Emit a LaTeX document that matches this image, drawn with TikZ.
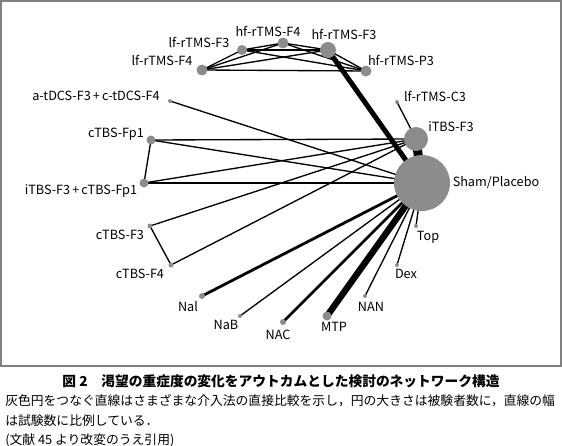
\documentclass[tikz,border=0pt]{standalone}
\usepackage{fontspec}
\setmainfont{Noto Sans CJK JP}
\usetikzlibrary{backgrounds}
\definecolor{nodegray}{RGB}{140,140,140}
\definecolor{framegray}{RGB}{128,128,128}
\tikzset{%
  trt/.style   = {circle, fill=nodegray, inner sep=0pt, minimum size=#1},%
  lbl/.style   = {font=\fontsize{9.5}{11}\selectfont, inner sep=0pt},%
  caption/.style = {font=\fontsize{9.6}{12}\selectfont, inner sep=0pt, anchor=west},%
  arm/.style   = {line width=1pt},%
  heavy/.style = {line width=#1}%
}
\begin{document}
\begin{tikzpicture}
[x=0.75pt,y=-0.75pt]
	\useasboundingbox (0,0) rectangle (562,446);
	\draw [framegray,line width=0.9pt] (1,1) rectangle (561,366);
	% treatments
	\node [trt=8.25pt] (lfF4) at (202,70) {};
	\node [trt=7.5pt]  (lfF3) at (242,50) {};
	\node [trt=8.25pt] (hfF4) at (283,43) {};
	\node [trt=12pt]   (hfF3) at (328,50) {};
	\node [trt=8.25pt] (hfP3) at (366,71) {};
	\node [trt=3pt]    (tdcs) at (170,101) {};
	\node [trt=3pt]    (lfC3) at (397,102) {};
	\node [trt=18pt]   (itbs) at (416,139) {};
	\node [trt=42pt]   (sham) at (422,183) {};
	\node [trt=3pt]    (top) at (416,226) {};
	\node [trt=3pt]    (dex) at (397,265) {};
	\node [trt=3pt]    (nan) at (365,296) {};
	\node [trt=6.75pt] (mtp) at (327,316) {};
	\node [trt=4.5pt]  (nac) at (283,322) {};
	\node [trt=3pt]    (nab) at (240,316) {};
	\node [trt=4.5pt]  (nal) at (202,296) {};
	\node [trt=3.75pt] (ctF4) at (171,265) {};
	\node [trt=3.75pt] (ctF3) at (150,226) {};
	\node [trt=6.75pt] (combo) at (144,183) {};
	\node [trt=6.75pt] (ctFp1) at (151,140) {};
	% labels
	\node [lbl] (lfF4-l) at (162,60) {lf-rTMS-F4};
	\node [lbl] (lfF3-l) at (199,42) {lf-rTMS-F3};
	\node [lbl] (hfF4-l) at (268,31) {hf-rTMS-F4};
	\node [lbl] (hfF3-l) at (344,34) {hf-rTMS-F3};
	\node [lbl] (hfP3-l) at (401,60) {hf-rTMS-P3};
	\node [lbl] (tdcs-l) at (96,96) {a-tDCS-F3\,+\,c-tDCS-F4};
	\node [lbl] (lfC3-l) at (435,96) {lf-rTMS-C3};
	\node [lbl] (itbs-l) at (451,127) {iTBS-F3};
	\node [lbl] (sham-l) at (496,183) {Sham/Placebo};
	\node [lbl] (top-l) at (428,237) {Top};
	\node [lbl] (dex-l) at (406,274) {Dex};
	\node [lbl] (nan-l) at (371,307) {NAN};
	\node [lbl] (mtp-l) at (334,327) {MTP};
	\node [lbl] (nac-l) at (278,335) {NAC};
	\node [lbl] (nab-l) at (226,325) {NaB};
	\node [lbl] (nal-l) at (188,307) {Nal};
	\node [lbl] (ctF4-l) at (140,274) {cTBS-F4};
	\node [lbl] (ctF3-l) at (120,235) {cTBS-F3};
	\node [lbl] (combo-l) at (81,191) {iTBS-F3\,+\,cTBS-Fp1};
	\node [lbl] (ctFp1-l) at (116,134) {cTBS-Fp1};
	\begin{pgfonlayer}{background}
		\foreach \a/\b in {lfF4/lfF3,lfF4/hfF4,lfF4/hfF3,lfF4/hfP3,lfF3/hfF4,lfF3/hfF3,lfF3/hfP3,hfF4/hfF3,hfF4/hfP3,hfF3/hfP3}
			\draw [arm] (\a.center) -- (\b.center);
		\foreach \a in {tdcs,ctFp1,combo,top,dex,nan,nab}
			\draw [arm] (\a.center) -- (sham.center);
		\foreach \a in {lfC3,ctFp1,combo,ctF3,ctF4}
			\draw [arm] (\a.center) -- (itbs.center);
		\draw [arm] (ctFp1.center) -- (combo.center);
		\draw [arm] (ctF3.center) -- (ctF4.center);
		\draw [heavy=3.75pt] (hfF3.center) -- (sham.center);
		\draw [heavy=6.75pt] (itbs.center) -- (sham.center);
		\draw [heavy=4.8pt] (mtp.center) -- (sham.center);
		\draw [heavy=2.1pt] (nac.center) -- (sham.center);
		\draw [heavy=2.1pt] (nal.center) -- (sham.center);
	\end{pgfonlayer}
	% caption
	\node [caption,anchor=center,font=\fontsize{10.3}{12}\selectfont\bfseries] (title) at (281,381) {図 2　渇望の重症度の変化をアウトカムとした検討のネットワーク構造};
	\node [caption] (cap1) at (5,401) {灰色円をつなぐ直線はさまざまな介入法の直接比較を示し，円の大きさは被験者数に，直線の幅};
	\node [caption] (cap2) at (5,421) {は試験数に比例している．};
	\node [caption] (cap3) at (5,440) {(文献 45 より改変のうえ引用)};
\end{tikzpicture}
\end{document}
